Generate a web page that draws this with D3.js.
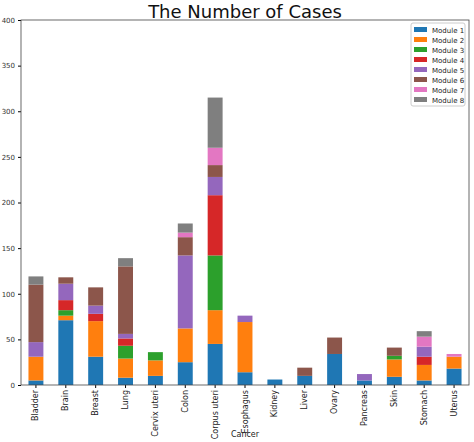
<!DOCTYPE html>
<html><head><meta charset="utf-8">
<script src="https://cdn.jsdelivr.net/npm/d3@7"></script>
<style>body{margin:0;background:#fff}text{font-family:"DejaVu Sans",sans-serif}</style>
</head><body><svg id="c" width="474" height="442"></svg>
<script>
const categories=["Bladder","Brain","Breast","Lung","Cervix uteri","Colon","Corpus uteri","Esophagus","Kidney","Liver","Ovary","Pancreas","Skin","Stomach","Uterus"];
const cats=["Bladder","Brain","Breast","Lung","Cervix uteri","Colon","Corpus uteri","Esophagus","Kidney","Liver","Ovary","Pancreas","Skin","Stomach","Uterus"];
const modules=["Module 1","Module 2","Module 3","Module 4","Module 5","Module 6","Module 7","Module 8"];
const m1=[5,71,31,8,10,25,45,14,6,10,34,5,9,5,18];
const m2=[26,5,39,21,17,37,37,55,0,0,0,0,19,17,13];
const m3=[0,6,0,14,9,0,60,0,0,0,0,0,4,0,0];
const m4=[0,11,8,8,0,0,66,0,0,0,0,0,0,9,0];
const m5=[16,18,9,5,0,80,20,7,0,0,0,7,0,11,0];
const m6=[63,7,20,74,0,20,13,0,0,9,18,0,9,0,0];
const m7=[0,0,0,0,0,5,19,0,0,0,0,0,0,11,3];
const m8=[9,0,0,9,0,10,55,0,0,0,0,0,0,6,0];
const yTicks=[0,50,100,150,200,250,300,350,400];
const colors=["#1f77b4","#ff7f0e","#2ca02c","#d62728","#9467bd","#8c564b","#e377c2","#7f7f7f"];
const series=[m1,m2,m3,m4,m5,m6,m7,m8];
const rows=cats.map((c,i)=>{const r={cat:c};modules.forEach((m,j)=>r[m]=series[j][i]);return r;});
const stack=d3.stack().keys(modules)(rows);
const svg=d3.select("#c");
const L=21,R=469,T=20,B=385;
const x=d3.scaleBand().domain(cats).range([L,R]).paddingInner(0.5).paddingOuter(0.25);
const y=d3.scaleLinear().domain([0,400]).range([B,T]);
stack.forEach((s,j)=>{
 svg.append("g").attr("fill",colors[j]).selectAll("rect").data(s).join("rect")
  .attr("x",d=>x(d.data.cat)).attr("width",x.bandwidth())
  .attr("y",d=>y(d[1])).attr("height",d=>y(d[0])-y(d[1]));
});
const ya=svg.append("g").attr("transform",`translate(${L},0)`).call(d3.axisLeft(y).tickValues(yTicks).tickSize(3));
ya.selectAll("text").attr("font-size",7).attr("fill","#333");
const xa=svg.append("g").attr("transform",`translate(0,${B})`).call(d3.axisBottom(x).tickSize(3));
xa.selectAll("text").attr("font-size",8).attr("fill","#222").attr("transform","rotate(-90)")
 .attr("text-anchor","end").attr("x",-5).attr("y",0).attr("dy","0.32em");
svg.selectAll(".domain").remove();
svg.append("rect").attr("x",L).attr("y",T).attr("width",R-L).attr("height",B-T).attr("fill","none").attr("stroke","#444").attr("stroke-width",0.8);
svg.append("text").attr("x",245).attr("y",18).attr("text-anchor","middle").attr("font-size",18).attr("fill","#111").text("The Number of Cases");
svg.append("text").attr("x",245).attr("y",437).attr("text-anchor","middle").attr("font-size",8).attr("fill","#222").text("Cancer");
const lg=svg.append("g").attr("transform","translate(411,23)");
lg.append("rect").attr("width",54).attr("height",83).attr("fill","#fff").attr("stroke","#ccc").attr("rx",2);
modules.forEach((m,j)=>{
 lg.append("rect").attr("x",3).attr("y",4+j*10).attr("width",13).attr("height",5).attr("fill",colors[j]);
 lg.append("text").attr("x",21).attr("y",9.5+j*10).attr("font-size",7).attr("fill","#222").text(m);
});
</script></body></html>
